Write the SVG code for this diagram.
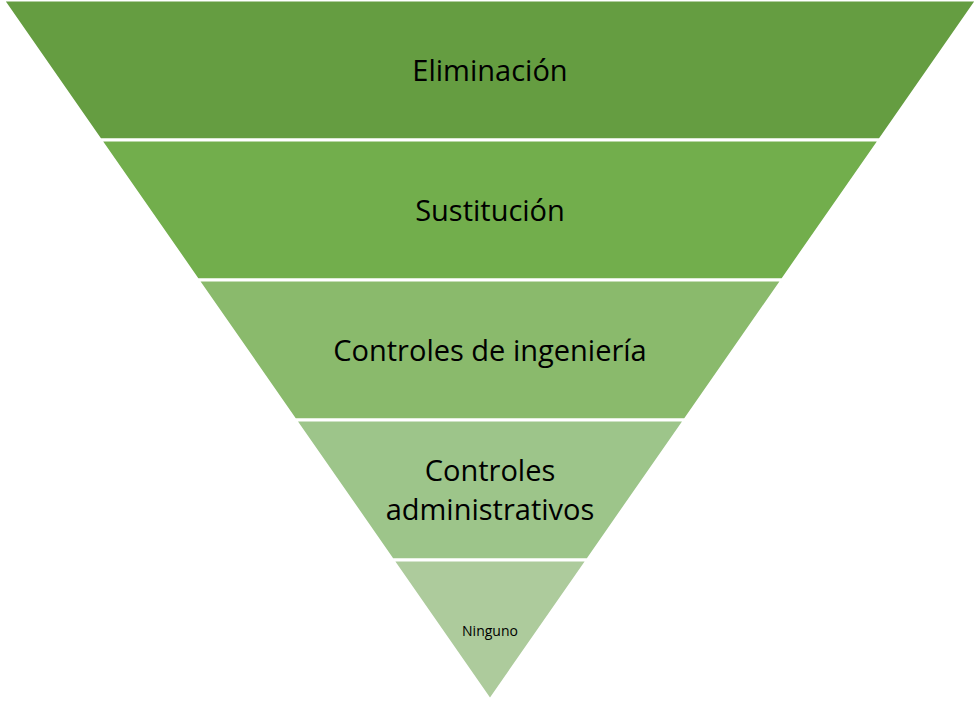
<svg xmlns="http://www.w3.org/2000/svg" width="980" height="702" viewBox="0 0 980 702">
<style>
.b{stroke:#fff;stroke-width:3}
.t{font-family:"Open Sans","Noto Sans",sans-serif;font-size:29px;fill:#000;text-anchor:middle}
.s{font-family:"Open Sans","Noto Sans",sans-serif;font-size:14px;fill:#000;text-anchor:middle}
</style>
<rect width="980" height="702" fill="#fff"/>
<g id="eliminacion"><polygon class="b" points="3,0 977,0 879.6,140 100.4,140" fill="#659d41"/><text class="t" x="490" y="81">Eliminación</text></g>
<g id="sustitucion"><polygon class="b" points="100.4,140 879.6,140 782.2,280 197.8,280" fill="#72ae4c"/><text class="t" x="490" y="221">Sustitución</text></g>
<g id="ingenieria"><polygon class="b" points="197.8,280 782.2,280 684.8,420 295.2,420" fill="#8aba6c"/><text class="t" x="490" y="361">Controles de ingeniería</text></g>
<g id="administrativos"><polygon class="b" points="295.2,420 684.8,420 587.4,560 392.6,560" fill="#9dc58a"/><text class="t" x="490" y="481">Controles</text><text class="t" x="490" y="520">administrativos</text></g>
<g id="ninguno"><polygon class="b" points="392.6,560 587.4,560 490,700" fill="#adcb9c"/><text class="s" x="490" y="636">Ninguno</text></g>
<g id="connectors"/>
</svg>
